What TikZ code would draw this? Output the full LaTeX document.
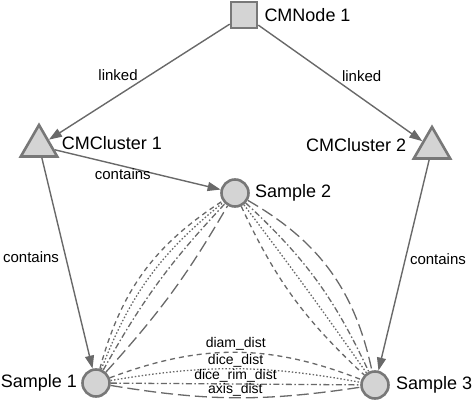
\documentclass[tikz,border=0pt]{standalone}
\usepackage{fontspec}
\setmainfont{Liberation Sans}
\usepackage{tikz}
\usetikzlibrary{shapes.geometric}
\usetikzlibrary{arrows.meta, bending, positioning, calc}
\definecolor{edgegray}{RGB}{105,105,105}
\definecolor{shapegray}{RGB}{120,120,120}
\definecolor{fillgray}{RGB}{212,212,212}

\begin{document}
\begin{tikzpicture}[x=1pt, y=-1pt,
    every label/.style={inner sep=2pt, font=\fontsize{18}{20}\selectfont},
    cmnode/.style={rectangle, draw=shapegray, fill=fillgray, line width=2.6pt, minimum size=26pt, inner sep=0pt},
    cluster/.style={regular polygon, regular polygon sides=3, draw=shapegray, fill=fillgray, line width=2.6pt, minimum size=42pt, inner sep=0pt},
    sample/.style={circle, draw=shapegray, fill=fillgray, line width=2.6pt, minimum size=27pt, inner sep=0pt},
    link/.style={draw=edgegray, line width=1.4pt, -{Triangle[length=13pt, width=9pt]}},
    elabel/.style={font=\fontsize{15}{17}\selectfont, inner sep=1pt},
    dlabel/.style={font=\fontsize{14}{15}\selectfont, inner sep=0pt},
    dist/.style={draw=edgegray, line width=1.3pt},
    diamdist/.style={dist, dash pattern=on 5pt off 4pt},
    dicedist/.style={dist, dash pattern=on 1.5pt off 2pt},
    rimdist/.style={dist, dash pattern=on 6pt off 2.5pt on 1.5pt off 2.5pt},
    axisdist/.style={dist, dash pattern=on 12pt off 5pt}]
    \useasboundingbox (0,0) rectangle (474,401);

    % Nodes
    \node[cmnode, label={[label distance=4pt]right:CMNode 1}] (n1) at (244,15) {};
    \node[cluster, label={[label distance=7pt, yshift=3pt]right:CMCluster 1}] (c1) at (39,146) {};
    \node[cluster, label={[label distance=10pt, yshift=3pt]left:CMCluster 2}] (c2) at (432,148) {};
    \node[sample, label={[label distance=3pt]right:Sample 2}] (s2) at (235,193) {};
    \node[sample, label={[label distance=2pt]left:Sample 1}] (s1) at (96,383) {};
    \node[sample, label={[label distance=4pt]right:Sample 3}] (s3) at (375,385) {};

    % Edges
    \draw[link] (n1) -- node[elabel, midway, above left] {linked} (c1);
    \draw[link] (n1) -- node[elabel, midway, above right] {linked} (c2);
    \draw[link] (c1) -- node[elabel, pos=0.41, below=1pt] {contains} (s2);
    \draw[link] (c1) -- node[elabel, pos=0.47, left=5pt] {contains} (s1);
    \draw[link] (c2) -- node[elabel, pos=0.47, right=3pt] {contains} (s3);

    % Distances
    \draw[diamdist] (s1) to[bend left=21] (s2);
    \draw[dicedist] (s1) to[bend left=15] (s2);
    \draw[rimdist] (s1) to[bend left=7] (s2);
    \draw[axisdist] (s1) to[bend right=6] (s2);

    \draw[diamdist] (s2) to[bend right=11] (s3);
    \draw[dicedist] (s2) to[bend left=1] (s3);
    \draw[rimdist] (s2) to[bend left=11] (s3);
    \draw[axisdist] (s2) to[bend left=24] (s3);

    \draw[diamdist] (s1) to[bend left=21] node[dlabel, midway, above=1pt] {diam\_dist} (s3);
    \draw[dicedist] (s1) to[bend left=10] node[dlabel, midway, above=1pt] {dice\_dist} (s3);
    \draw[rimdist] (s1) to[bend left=0] node[dlabel, midway, above=1pt] {dice\_rim\_dist} (s3);
    \draw[axisdist] (s1) to[bend right=9] node[dlabel, midway, above=1pt] {axis\_dist} (s3);
\end{tikzpicture}
\end{document}
